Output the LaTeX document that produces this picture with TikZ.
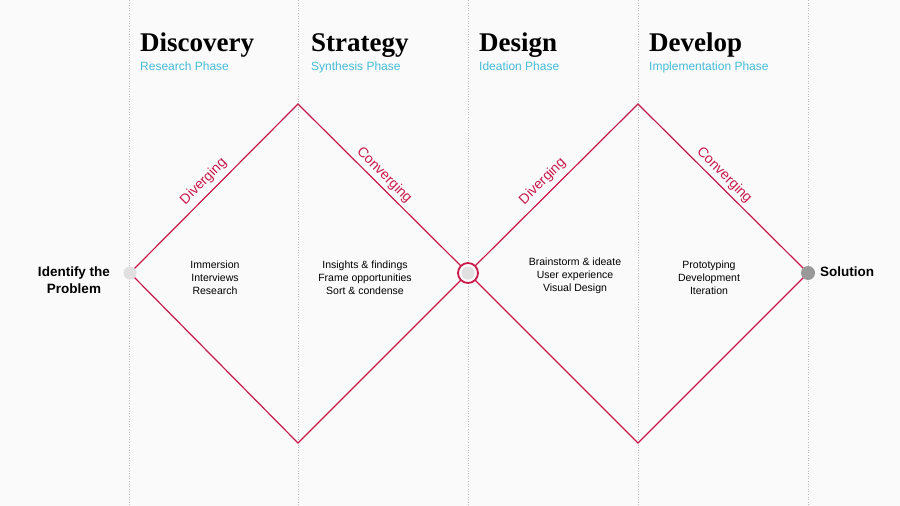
\documentclass[tikz,border=0pt]{standalone}
\usepackage{fontspec}
\setmainfont{Liberation Sans}
\newfontfamily\titlefont{Liberation Serif}
\definecolor{bg}{HTML}{FAFAFA}
\definecolor{dred}{HTML}{C8194B}
\definecolor{dcyan}{HTML}{45BBD8}
\definecolor{gridgray}{HTML}{BBBBBB}
\definecolor{dotlight}{HTML}{E0E0E0}
\definecolor{dotdark}{HTML}{999999}
\begin{document}
\begin{tikzpicture}[x=1pt,y=-1pt,
  title/.style={anchor=base west,inner sep=0pt,font=\titlefont\bfseries\fontsize{27}{30}\selectfont,text=black},
  subtitle/.style={anchor=base west,inner sep=0pt,font=\fontsize{12}{14}\selectfont,text=dcyan},
  gridline/.style={draw=gridgray,line width=0.6pt,dotted},
  wing/.style={draw=dred,line width=1.2pt,line join=miter},
  edgelabel/.style={sloped,text=dred,font=\fontsize{14}{16}\selectfont,inner sep=0pt},
  listtext/.style={align=center,font=\fontsize{10.5}{13}\selectfont,text=black,inner sep=0pt},
  endtext/.style={align=center,font=\bfseries\fontsize{13.5}{17}\selectfont,text=black,inner sep=0pt},
  dot/.style={circle,inner sep=0pt,draw=none}
]
\useasboundingbox[fill=bg] (0,0) rectangle (900,506);
% grid lines
\foreach \gx/\nm in {129/ga,298/gb,468/gc,638/gd,808/ge}{
  \coordinate (\nm t) at (\gx,0);
  \coordinate (\nm b) at (\gx,506);
  \draw[gridline] (\nm t) -- (\nm b);
}
% titles
\node[title] (t1) at (140,51) {Discovery};
\node[subtitle] (s1) at (140,70) {Research Phase};
\node[title] (t2) at (311,51) {Strategy};
\node[subtitle] (s2) at (311,70) {Synthesis Phase};
\node[title] (t3) at (479,51) {Design};
\node[subtitle] (s3) at (479,70) {Ideation Phase};
\node[title] (t4) at (649,51) {Develop};
\node[subtitle] (s4) at (649,70) {Implementation Phase};
% diamond corners
\coordinate (L) at (130,273);
\coordinate (T1) at (298,104);
\coordinate (B1) at (298,443);
\coordinate (M) at (468,273);
\coordinate (T2) at (638,104);
\coordinate (B2) at (638,443);
\coordinate (R) at (808,273);
\draw[wing] (L) -- node[edgelabel,pos=0.49,above=5pt] (dv1) {Diverging} (T1) -- node[edgelabel,pos=0.465,above=3pt] (cv1) {Converging} (M) -- (B1) -- cycle;
\draw[wing] (M) -- node[edgelabel,pos=0.49,above=5pt] (dv2) {Diverging} (T2) -- node[edgelabel,pos=0.465,above=3pt] (cv2) {Converging} (R) -- (B2) -- cycle;
% dots
\node[dot,fill=dotlight,minimum size=13pt] (dl) at (L) {};
\node[dot,fill=bg,draw=dred,line width=1.8pt,minimum size=20pt] (dm) at (M) {};
\node[dot,fill=dotlight,minimum size=13pt] (dmi) at (M) {};
\node[dot,fill=dotdark,minimum size=14pt] (dr) at (R) {};
% texts
\node[endtext] (idp) at (74,280) {Identify the\\Problem};
\node[endtext,anchor=west] (sol) at (820,272) {Solution};
\node[listtext] (l1) at (215,278) {Immersion\\Interviews\\Research};
\node[listtext] (l2) at (365,278) {Insights \& findings\\Frame opportunities\\Sort \& condense};
\node[listtext] (l3) at (575,276) {Brainstorm \& ideate\\User experience\\Visual Design};
\node[listtext] (l4) at (709,278) {Prototyping\\Development\\Iteration};
\end{tikzpicture}
\end{document}
